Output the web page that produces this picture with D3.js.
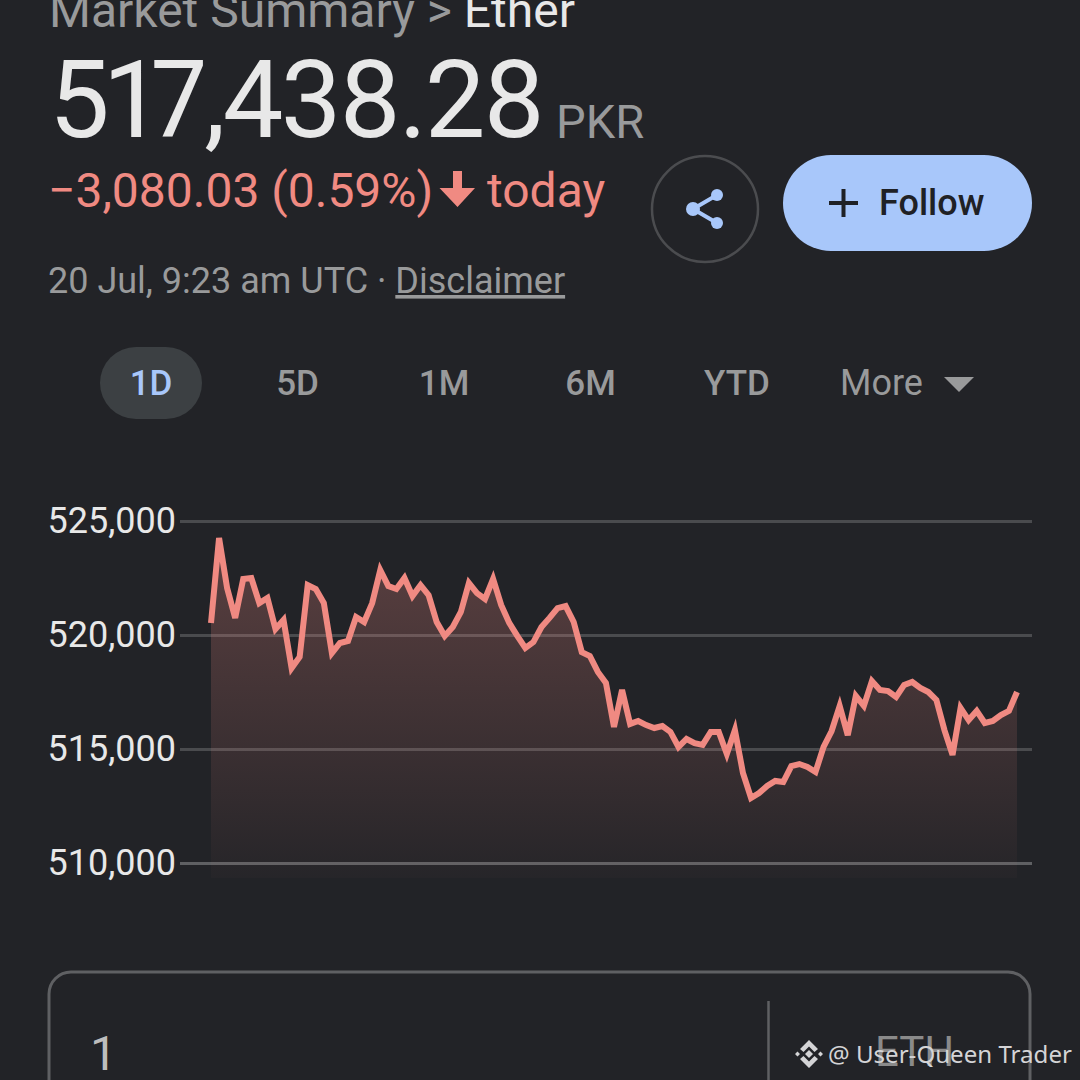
<!DOCTYPE html>
<html>
<head>
<meta charset="utf-8">
<script src="https://cdn.jsdelivr.net/npm/d3@7"></script>
<style>
  html, body { margin: 0; padding: 0; background: #222327; overflow: hidden; }
  svg { display: block; font-family: Roboto, sans-serif; }
</style>
</head>
<body>
<svg id="chart"></svg>
<script>
const width = 1080
const height = 1080

// price, one point every ~8px
const prices = [
  520530, 524250, 522060, 520750, 522460, 522500, 521400, 521620, 520260, 520660,
  518550, 519040, 522190, 522020, 521400, 519210, 519650, 519740, 520790, 520570,
  521400, 522850, 522150, 522020, 522500, 521710, 522190, 521750, 520570, 519960,
  520350, 521010, 522280, 521840, 521580, 522460, 521320, 520530, 519960, 519430,
  519690, 520350, 520750, 521180, 521270, 520570, 519250, 519080, 518380, 517900,
  515970, 517590, 516100, 516230, 516050, 515920, 516010, 515750, 515090, 515440,
  515260, 515180, 515750, 515750, 514780, 515830, 513950, 512850, 513070, 513380,
  513600, 513550, 514250, 514340, 514210, 513990, 515090, 515790, 516890, 515610,
  517330, 516890, 517980, 517590, 517540, 517280, 517810, 517940, 517680, 517500,
  517150, 515830, 514740, 516800, 516270, 516670, 516140, 516230, 516490, 516670,
  517500
]
const yTicks = [510000, 515000, 520000, 525000]
const areaFloor = 509340
const ranges = ['1D', '5D', '1M', '6M', 'YTD']

const bg = '#222327'
const red = '#f08a82'
const blue = '#a8c7fa'
const grey = '#999a9b'
const white = '#e8e8e8'

const svg = d3.select('#chart')
  .attr('width', width)
  .attr('height', height)
  .attr('viewBox', [0, 0, width, height])

const x = d3.scaleLinear().domain([0, prices.length - 1]).range([211, 1017])
const y = d3.scaleLinear().domain([510000, 525000]).range([863, 521])

// header
function label(txt, px, py, size, fill, anchor = 'start', weight = 400) {
  return svg.append('text')
    .attr('x', px).attr('y', py)
    .attr('font-size', size)
    .attr('font-weight', weight)
    .attr('fill', fill)
    .attr('text-anchor', anchor)
    .text(txt)
}

const crumb = label('', 49, 27, 48, grey)
crumb.append('tspan').text('Market Summary > ')
crumb.append('tspan').attr('fill', white).text('Ether')

label('517,438.28', 49, 137, 108, white)
  .style('font-variant-numeric', 'proportional-nums')
  .style('letter-spacing', '-2.7px')
label('PKR', 556, 138, 47, grey)

label('−3,080.03 (0.59%)', 48, 207, 48, red)
svg.append('path')
  .attr('d', 'M453 171h9v17h13l-17.5 19-18-19h13.5z')
  .attr('fill', red)
label('today', 487, 207, 48, red)

const stamp = label('', 48, 293, 36, grey)
stamp.append('tspan').text('20 Jul, 9:23 am UTC · ')
stamp.append('tspan').attr('text-decoration', 'underline').text('Disclaimer')

// share + follow buttons
svg.append('circle')
  .attr('cx', 705).attr('cy', 209).attr('r', 53)
  .attr('fill', 'none').attr('stroke', '#4b4c4f').attr('stroke-width', 2.5)
const share = svg.append('g').attr('fill', blue)
share.append('path')
  .attr('d', 'M717 195L693 209L717 223')
  .attr('fill', 'none').attr('stroke', blue).attr('stroke-width', 4)
share.selectAll('circle')
  .data([[717, 195, 6], [693, 209, 7], [717, 223, 6]])
  .join('circle')
  .attr('cx', d => d[0]).attr('cy', d => d[1]).attr('r', d => d[2])

svg.append('rect')
  .attr('x', 783).attr('y', 155).attr('width', 249).attr('height', 96).attr('rx', 48)
  .attr('fill', blue)
svg.append('path')
  .attr('d', 'M829 203H858M843.5 189V217')
  .attr('stroke', '#1f2125').attr('stroke-width', 4).attr('fill', 'none')
label('Follow', 879, 215, 36, '#1f2125', 'start', 500)

// range tabs
svg.append('rect')
  .attr('x', 100).attr('y', 347).attr('width', 102).attr('height', 72).attr('rx', 36)
  .attr('fill', '#3c4043')
const tabX = d3.scalePoint().domain(ranges).range([151, 737])
svg.selectAll('.tab')
  .data(ranges)
  .join('text')
  .attr('class', 'tab')
  .attr('x', d => tabX(d))
  .attr('y', 395)
  .attr('text-anchor', 'middle')
  .attr('font-size', 35)
  .attr('font-weight', 500)
  .attr('fill', d => d === '1D' ? blue : grey)
  .text(d => d)
label('More', 840, 395, 36, grey)
svg.append('path').attr('d', 'M944 377H974L959 392Z').attr('fill', grey)

// area + line
const defs = svg.append('defs')
const grad = defs.append('linearGradient')
  .attr('id', 'fade')
  .attr('gradientUnits', 'userSpaceOnUse')
  .attr('x1', 0).attr('x2', 0)
  .attr('y1', y(d3.max(prices))).attr('y2', y(areaFloor))
grad.append('stop').attr('offset', 0).attr('stop-color', red).attr('stop-opacity', 0.28)
grad.append('stop').attr('offset', 1).attr('stop-color', red).attr('stop-opacity', 0.02)

const gridAxis = d3.axisLeft(y)
  .tickValues(yTicks)
  .tickSize(-(1032 - 180))
  .tickPadding(4)
  .tickFormat(d3.format(','))

const axisG = svg.append('g')
  .attr('transform', 'translate(180,0)')
  .call(gridAxis)
axisG.select('.domain').remove()
axisG.selectAll('.tick line')
  .attr('stroke', d => d === 510000 ? '#5f6063' : '#4a4b4e')
  .attr('stroke-width', 3)
axisG.selectAll('.tick text')
  .attr('font-family', 'Roboto, sans-serif')
  .attr('font-size', 36)
  .attr('fill', white)
  .attr('dy', '0.32em')

const area = d3.area()
  .x((d, i) => x(i))
  .y0(y(areaFloor))
  .y1(d => y(d))
svg.append('path').datum(prices).attr('d', area).attr('fill', 'url(#fade)')

const line = d3.line()
  .x((d, i) => x(i))
  .y(d => y(d))
svg.append('path').datum(prices)
  .attr('d', line)
  .attr('fill', 'none')
  .attr('stroke', red)
  .attr('stroke-width', 6)
  .attr('stroke-linejoin', 'miter')

// converter card, cut off by the bottom edge
svg.append('rect')
  .attr('x', 49).attr('y', 972).attr('width', 981).attr('height', 200).attr('rx', 22)
  .attr('fill', 'none').attr('stroke', '#5f6063').attr('stroke-width', 3)
svg.append('line')
  .attr('x1', 768.5).attr('x2', 768.5).attr('y1', 1001).attr('y2', height)
  .attr('stroke', '#5f6063').attr('stroke-width', 2.5)
label('1', 90, 1070, 48, '#bdbdbd')
label('ETH', 875, 1066, 42, '#8a8a8a')

// watermark
const mark = svg.append('g').attr('fill', '#d4d4d6').attr('transform', 'translate(809,1054)')
mark.append('path').attr('d', 'M0-14L9-5L5.5-2L0-7.5L-5.5-2L-9-5ZM0 14L9 5L5.5 2L0 7.5L-5.5 2L-9 5ZM0-4L4 0L0 4L-4 0ZM-14 0L-11.5-2.5L-9 0L-11.5 2.5ZM14 0L11.5-2.5L9 0L11.5 2.5Z')
label('@ User-Queen Trader', 828, 1063, 24.1, '#d4d4d6').attr('font-family', '"Noto Sans", sans-serif')
</script>
</body>
</html>
